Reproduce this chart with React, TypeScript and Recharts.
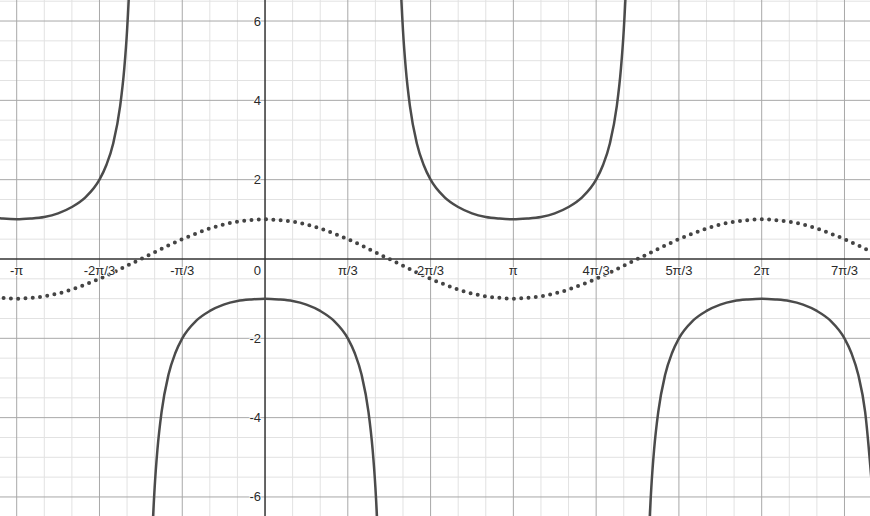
import { ComposedChart, Line, XAxis, YAxis, ReferenceLine, ReferenceDot } from 'recharts'

const secLeft: [number, number][] = [
  [-195, 1.04], [-190, 1.02], [-180, 1], [-170, 1.02], [-160, 1.06], [-150, 1.15],
  [-140, 1.31], [-130, 1.56], [-120, 2], [-115, 2.37], [-110, 2.92], [-105, 3.86],
  [-102, 4.81], [-100, 5.76], [-98, 7.19], [-97, 8.21],
]
const secMiddleDown: [number, number][] = [
  [-83, -8.21], [-82, -7.19], [-80, -5.76], [-78, -4.81], [-75, -3.86], [-70, -2.92],
  [-65, -2.37], [-60, -2], [-50, -1.56], [-40, -1.31], [-30, -1.15], [-20, -1.06],
  [-10, -1.02], [0, -1], [10, -1.02], [20, -1.06], [30, -1.15], [40, -1.31], [50, -1.56],
  [60, -2], [65, -2.37], [70, -2.92], [75, -3.86], [78, -4.81], [80, -5.76], [82, -7.19],
  [83, -8.21],
]
const secMiddleUp: [number, number][] = [
  [97, 8.21], [98, 7.19], [100, 5.76], [102, 4.81], [105, 3.86], [110, 2.92],
  [115, 2.37], [120, 2], [130, 1.56], [140, 1.31], [150, 1.15], [160, 1.06],
  [170, 1.02], [180, 1], [190, 1.02], [200, 1.06], [210, 1.15], [220, 1.31], [230, 1.56],
  [240, 2], [245, 2.37], [250, 2.92], [255, 3.86], [258, 4.81], [260, 5.76], [262, 7.19],
  [263, 8.21],
]
const secRight: [number, number][] = [
  [277, -8.21], [278, -7.19], [280, -5.76], [282, -4.81], [285, -3.86], [290, -2.92],
  [295, -2.37], [300, -2], [310, -1.56], [320, -1.31], [330, -1.15], [340, -1.06],
  [350, -1.02], [360, -1], [370, -1.02], [380, -1.06], [390, -1.15], [400, -1.31],
  [410, -1.56], [420, -2], [425, -2.37], [430, -2.92], [435, -3.86], [440, -5.76],
]
const cosDotted: [number, number][] = [
  [-200, -0.94], [-190, -0.98], [-180, -1], [-170, -0.98], [-160, -0.94], [-150, -0.87],
  [-140, -0.77], [-130, -0.64], [-120, -0.5], [-110, -0.34], [-100, -0.17], [-90, 0],
  [-80, 0.17], [-70, 0.34], [-60, 0.5], [-50, 0.64], [-40, 0.77], [-30, 0.87],
  [-20, 0.94], [-10, 0.98], [0, 1], [10, 0.98], [20, 0.94], [30, 0.87], [40, 0.77],
  [50, 0.64], [60, 0.5], [70, 0.34], [80, 0.17], [90, 0], [100, -0.17], [110, -0.34],
  [120, -0.5], [130, -0.64], [140, -0.77], [150, -0.87], [160, -0.94], [170, -0.98],
  [180, -1], [190, -0.98], [200, -0.94], [210, -0.87], [220, -0.77], [230, -0.64],
  [240, -0.5], [250, -0.34], [260, -0.17], [270, 0], [280, 0.17], [290, 0.34],
  [300, 0.5], [310, 0.64], [320, 0.77], [330, 0.87], [340, 0.94], [350, 0.98],
  [360, 1], [370, 0.98], [380, 0.94], [390, 0.87], [400, 0.77], [410, 0.64],
  [420, 0.5], [430, 0.34], [440, 0.17],
]

const xMajor = [-180, -120, -60, 60, 120, 180, 240, 300, 360, 420]
const xLabels = ['-π', '-2π/3', '-π/3', 'π/3', '2π/3', 'π', '4π/3', '5π/3', '2π', '7π/3']
const xMinor = [-160, -140, -100, -80, -40, -20, 20, 40, 80, 100, 140, 160, 200, 220,
  260, 280, 320, 340, 380, 400]
const yMajor = [-6, -4, -2, 2, 4, 6]
const yMinor = [-5.5, -5, -4.5, -3.5, -3, -2.5, -1.5, -1, -0.5, 0.5, 1, 1.5, 2.5, 3,
  3.5, 4.5, 5, 5.5, 6.5, -6.5]

const toRows = (pts: [number, number][]) => pts.map(([x, y]) => ({ x, y }))

const INK = '#4b4b4b'
const FONT = 'Liberation Sans, Arial, sans-serif'

const haloText = {
  fontFamily: FONT,
  fontSize: 13,
  fill: '#2a2a2a',
  stroke: '#fff',
  strokeWidth: 1.5,
  paintOrder: 'stroke' as const,
}

export default function App() {
  return (
    <div style={{ position: 'fixed', left: 0, top: 0, background: '#fff' }}>
      <ComposedChart width={870} height={516} margin={{ top: 0, right: 0, bottom: 0, left: 0 }}>
        <XAxis type="number" dataKey="x" domain={[-192.1, 438.5]} allowDataOverflow hide />
        <YAxis type="number" dataKey="y" domain={[-6.48, 6.53]} allowDataOverflow hide />

        {xMinor.map((v) => (
          <ReferenceLine key={`xm${v}`} x={v} stroke="#e2e2e2" strokeWidth={1} />
        ))}
        {yMinor.map((v) => (
          <ReferenceLine key={`ym${v}`} y={v} stroke="#e2e2e2" strokeWidth={1} />
        ))}
        {xMajor.map((v) => (
          <ReferenceLine key={`xM${v}`} x={v} stroke="#a8a8a8" strokeWidth={1} />
        ))}
        {yMajor.map((v) => (
          <ReferenceLine key={`yM${v}`} y={v} stroke="#a8a8a8" strokeWidth={1} />
        ))}
        <ReferenceLine x={0} stroke="#333" strokeWidth={1.5} />
        <ReferenceLine y={0} stroke="#333" strokeWidth={1.5} />

        {xMajor.map((v, i) => (
          <ReferenceDot
            key={`xl${v}`}
            x={v}
            y={0}
            r={0}
            shape={(p: any) => (
              <text x={p.cx} y={p.cy + 16} textAnchor="middle" style={haloText}>
                {xLabels[i]}
              </text>
            )}
          />
        ))}
        <ReferenceDot
          x={0}
          y={0}
          r={0}
          shape={(p: any) => (
            <text x={p.cx - 4} y={p.cy + 16} textAnchor="end" style={haloText}>
              0
            </text>
          )}
        />
        {yMajor.map((v) => (
          <ReferenceDot
            key={`yl${v}`}
            x={0}
            y={v}
            r={0}
            shape={(p: any) => (
              <text x={p.cx - 4} y={p.cy + 4.5} textAnchor="end" style={haloText}>
                {String(v)}
              </text>
            )}
          />
        ))}

        {[secLeft, secMiddleDown, secMiddleUp, secRight].map((branch, i) => (
          <Line
            key={`sec${i}`}
            data={toRows(branch)}
            dataKey="y"
            type="monotone"
            stroke={INK}
            strokeWidth={2.5}
            dot={false}
            activeDot={false}
            isAnimationActive={false}
          />
        ))}
        <Line
          data={toRows(cosDotted)}
          dataKey="y"
          type="monotone"
          stroke="#444"
          strokeWidth={4}
          strokeLinecap="round"
          strokeDasharray="0 7.3"
          dot={false}
          activeDot={false}
          isAnimationActive={false}
        />
      </ComposedChart>
    </div>
  )
}
